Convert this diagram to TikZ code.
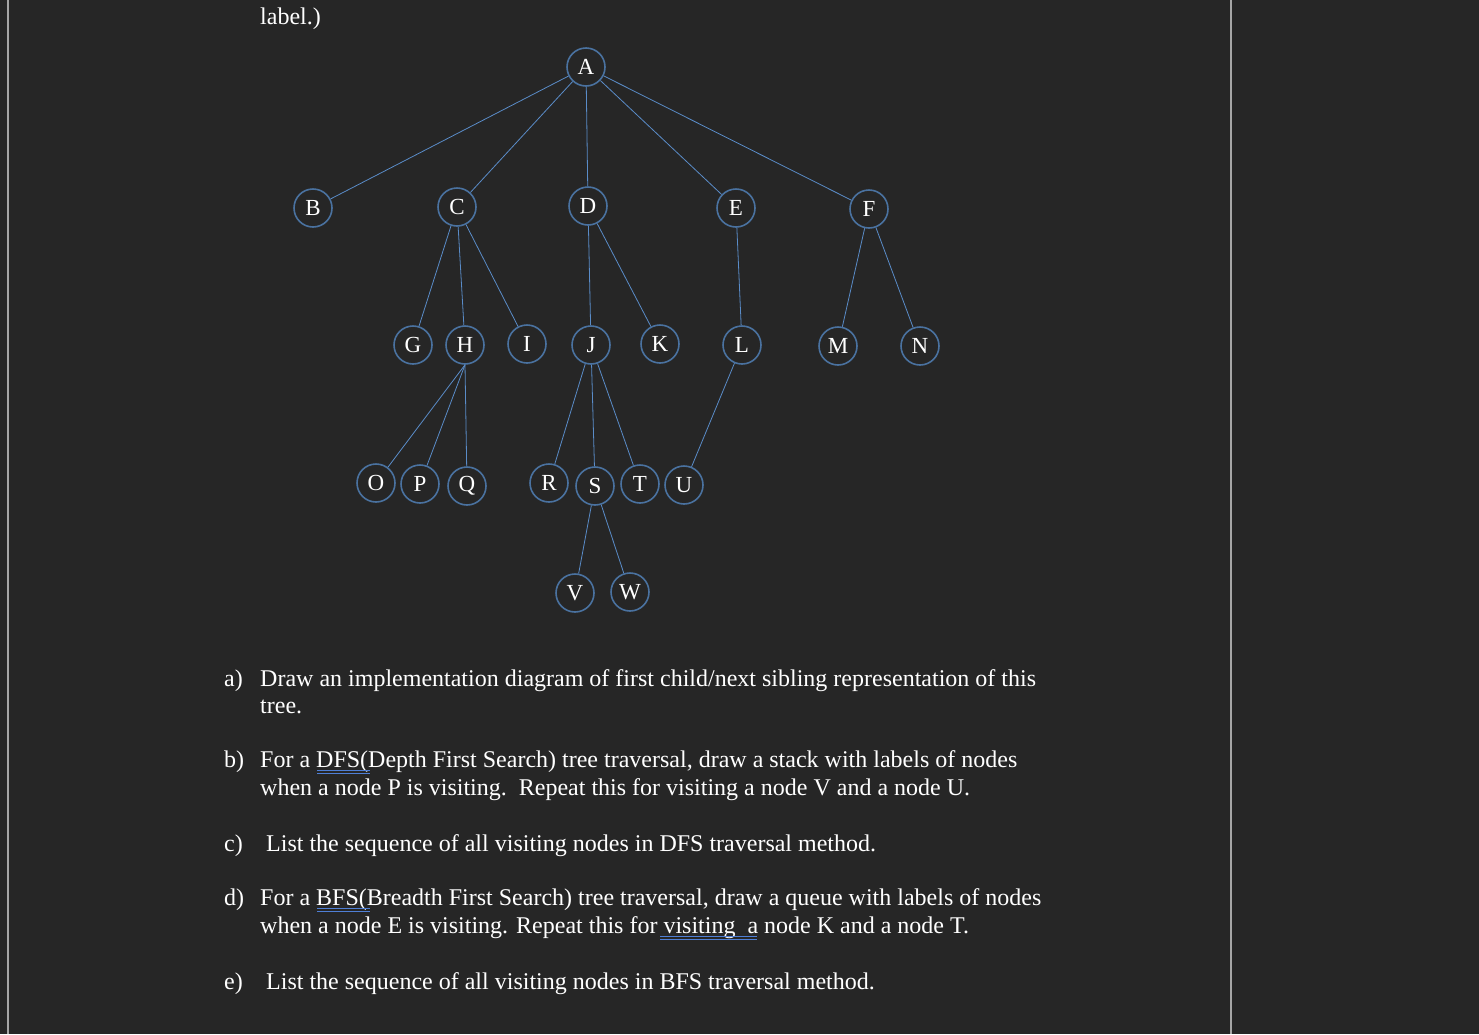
\documentclass[tikz,border=0pt]{standalone}
\usepackage{fontspec}
\setmainfont{Liberation Serif}
\begin{document}
\begin{tikzpicture}[x=1pt,y=-1pt,
  tn/.style={circle,draw=nodeblue,line width=1.6pt,minimum size=38pt,inner sep=0pt,text=white,font=\fontsize{23}{23}\selectfont},
  ed/.style={draw=edgeblue,line width=0.8pt},
  tx/.style={anchor=base west,inner sep=0pt,text=white,font=\fontsize{24}{28}\selectfont},
  sq/.style={draw=sqblue,line width=1pt}]
\definecolor{bg}{HTML}{262626}
\definecolor{nodeblue}{HTML}{4A72A0}
\definecolor{edgeblue}{HTML}{5A8CC8}
\definecolor{sqblue}{HTML}{4F7FD6}
\fill[bg] (0,0) rectangle (1479,1034);
\useasboundingbox (0,0) rectangle (1479,1034);
\fill[gray!70] (7,0) rectangle (9,1034);
\fill[gray!70] (1230,0) rectangle (1232,1034);
\node[tn] (A) at (586,67) {A};
\node[tn] (B) at (313,208) {B};
\node[tn] (C) at (457,207) {C};
\node[tn] (D) at (588,206) {D};
\node[tn] (E) at (736,208) {E};
\node[tn] (F) at (869,209) {F};
\node[tn] (G) at (413,345) {G};
\node[tn] (H) at (465,345) {H};
\node[tn] (I) at (527,344) {I};
\node[tn] (J) at (591,345) {J};
\node[tn] (K) at (660,344) {K};
\node[tn] (L) at (742,345) {L};
\node[tn] (M) at (838,346) {M};
\node[tn] (N) at (920,346) {N};
\node[tn] (O) at (376,483) {O};
\node[tn] (P) at (420,484) {P};
\node[tn] (Q) at (467,486) {Q};
\node[tn] (R) at (549,483) {R};
\node[tn] (S) at (595,486) {S};
\node[tn] (T) at (640,484) {T};
\node[tn] (U) at (684,485) {U};
\node[tn] (V) at (575,593) {V};
\node[tn] (W) at (630,592) {W};
\foreach \a/\b in {A/B,A/C,A/D,A/E,A/F,C/G,C/H,C/I,D/J,D/K,E/L,F/M,F/N,J/R,J/S,J/T,L/U,S/V,S/W}
  \draw[ed] (\a) -- (\b);
\foreach \b in {O,P,Q}
  \draw[ed] (H.south) -- (\b);
\node[tx] (t0) at (260,24) {label.)};
\node[tx] (la) at (224,686) {a)};
\node[tx] (ta1) at (260,686) {Draw an implementation diagram of first child/next sibling representation of this};
\node[tx] (ta2) at (260,713) {tree.};
\node[tx] (lb) at (224,767) {b)};
\node[tx] (tb1) at (260,767) {For a DFS(Depth First Search) tree traversal, draw a stack with labels of nodes};
\node[tx] (tb2) at (260,795) {when a node P is visiting.\ \ Repeat this for visiting a node V and a node U.};
\node[tx] (lc) at (224,851) {c)};
\node[tx] (tc) at (266,851) {List the sequence of all visiting nodes in DFS traversal method.};
\node[tx] (ld) at (224,905) {d)};
\node[tx] (td1) at (260,905) {For a BFS(Breadth First Search) tree traversal, draw a queue with labels of nodes};
\node[tx] (td2) at (260,933) {when a node E is visiting. Repeat this for visiting\ \ a node K and a node T.};
\node[tx] (le) at (224,989) {e)};
\node[tx] (tle) at (266,989) {List the sequence of all visiting nodes in BFS traversal method.};
\draw[sq] (317,770) -- (370,770); \draw[sq] (317,773) -- (370,773);
\draw[sq] (317,908) -- (370,908); \draw[sq] (317,911) -- (370,911);
\draw[sq] (660,936) -- (757,936); \draw[sq] (660,939) -- (757,939);
\end{tikzpicture}
\end{document}
